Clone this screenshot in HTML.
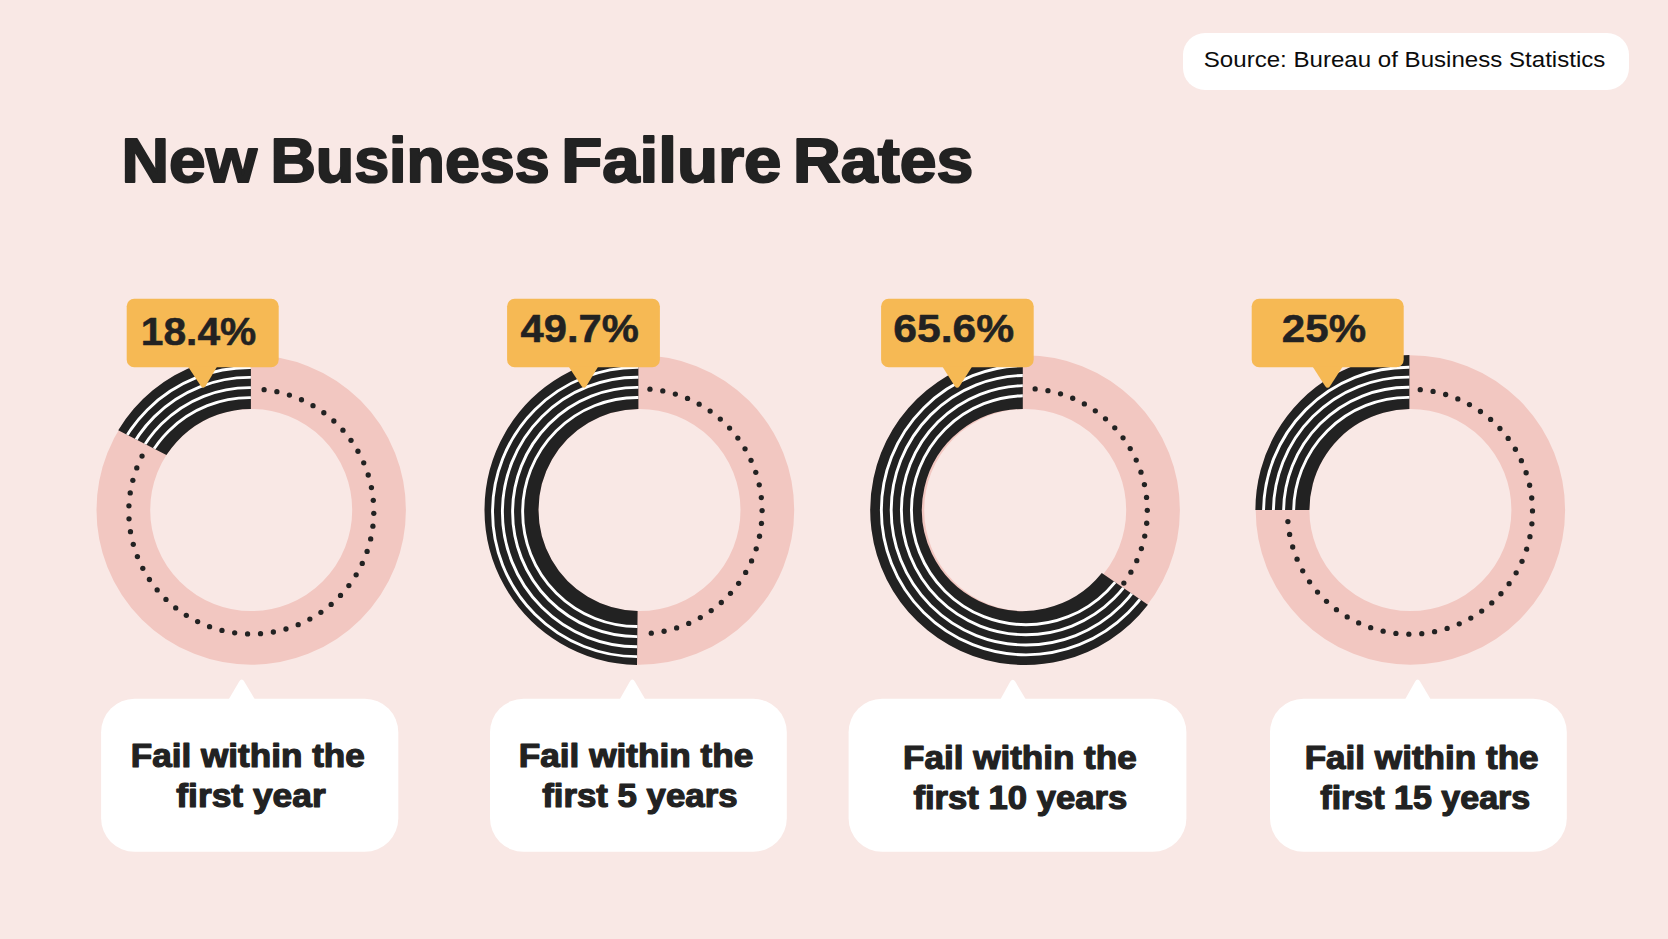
<!DOCTYPE html>
<html><head><meta charset="utf-8"><title>New Business Failure Rates</title>
<style>
html,body{margin:0;padding:0;background:#F9E8E5;}
body{width:1668px;height:939px;overflow:hidden;position:relative;}
svg{position:absolute;left:0;top:0;display:block;}
text{font-family:"Liberation Sans",Arial,sans-serif;fill:#222222;}
.ttl{font-size:62.4px;font-weight:700;stroke:#222;stroke-width:2px;stroke-linejoin:round;}
.pct{font-size:39.4px;font-weight:700;stroke:#222;stroke-width:0.5px;stroke-linejoin:round;}
.lbl{font-size:32.4px;font-weight:700;stroke:#222;stroke-width:1.2px;stroke-linejoin:round;}
.src{font-size:22px;font-weight:400;fill:#0c0c0c;}
</style></head>
<body>
<svg width="1668" height="939" viewBox="0 0 1668 939">
<rect width="1668" height="939" fill="#F9E8E5"/>
<circle cx="251.2" cy="510" r="127.85" fill="none" stroke="#F2C7C1" stroke-width="53.7"/>
<circle cx="264.1" cy="389.67" r="2.65" fill="#222222"/>
<circle cx="276.89" cy="391.7" r="2.65" fill="#222222"/>
<circle cx="289.4" cy="395.08" r="2.65" fill="#222222"/>
<circle cx="301.48" cy="399.75" r="2.65" fill="#222222"/>
<circle cx="312.99" cy="405.67" r="2.65" fill="#222222"/>
<circle cx="323.82" cy="412.77" r="2.65" fill="#222222"/>
<circle cx="333.84" cy="420.98" r="2.65" fill="#222222"/>
<circle cx="342.93" cy="430.2" r="2.65" fill="#222222"/>
<circle cx="351" cy="440.33" r="2.65" fill="#222222"/>
<circle cx="357.96" cy="451.25" r="2.65" fill="#222222"/>
<circle cx="363.72" cy="462.85" r="2.65" fill="#222222"/>
<circle cx="368.23" cy="474.99" r="2.65" fill="#222222"/>
<circle cx="371.43" cy="487.54" r="2.65" fill="#222222"/>
<circle cx="373.29" cy="500.35" r="2.65" fill="#222222"/>
<circle cx="373.79" cy="513.3" r="2.65" fill="#222222"/>
<circle cx="372.91" cy="526.22" r="2.65" fill="#222222"/>
<circle cx="370.68" cy="538.97" r="2.65" fill="#222222"/>
<circle cx="367.11" cy="551.42" r="2.65" fill="#222222"/>
<circle cx="362.25" cy="563.43" r="2.65" fill="#222222"/>
<circle cx="356.15" cy="574.85" r="2.65" fill="#222222"/>
<circle cx="348.87" cy="585.56" r="2.65" fill="#222222"/>
<circle cx="340.51" cy="595.45" r="2.65" fill="#222222"/>
<circle cx="331.15" cy="604.4" r="2.65" fill="#222222"/>
<circle cx="320.9" cy="612.31" r="2.65" fill="#222222"/>
<circle cx="309.86" cy="619.09" r="2.65" fill="#222222"/>
<circle cx="298.18" cy="624.68" r="2.65" fill="#222222"/>
<circle cx="285.97" cy="628.99" r="2.65" fill="#222222"/>
<circle cx="273.37" cy="632" r="2.65" fill="#222222"/>
<circle cx="260.53" cy="633.65" r="2.65" fill="#222222"/>
<circle cx="247.58" cy="633.94" r="2.65" fill="#222222"/>
<circle cx="234.67" cy="632.87" r="2.65" fill="#222222"/>
<circle cx="221.96" cy="630.43" r="2.65" fill="#222222"/>
<circle cx="209.56" cy="626.67" r="2.65" fill="#222222"/>
<circle cx="197.64" cy="621.62" r="2.65" fill="#222222"/>
<circle cx="186.31" cy="615.34" r="2.65" fill="#222222"/>
<circle cx="175.71" cy="607.9" r="2.65" fill="#222222"/>
<circle cx="165.96" cy="599.38" r="2.65" fill="#222222"/>
<circle cx="157.16" cy="589.88" r="2.65" fill="#222222"/>
<circle cx="149.41" cy="579.5" r="2.65" fill="#222222"/>
<circle cx="142.8" cy="568.37" r="2.65" fill="#222222"/>
<circle cx="137.4" cy="556.6" r="2.65" fill="#222222"/>
<circle cx="133.28" cy="544.32" r="2.65" fill="#222222"/>
<circle cx="130.47" cy="531.68" r="2.65" fill="#222222"/>
<circle cx="129.02" cy="518.81" r="2.65" fill="#222222"/>
<circle cx="128.93" cy="505.86" r="2.65" fill="#222222"/>
<circle cx="130.21" cy="492.97" r="2.65" fill="#222222"/>
<circle cx="132.84" cy="480.29" r="2.65" fill="#222222"/>
<circle cx="136.8" cy="467.96" r="2.65" fill="#222222"/>
<circle cx="142.04" cy="456.11" r="2.65" fill="#222222"/>
<clipPath id="c0"><path d="M250.9,355 A155,155 0 0 0 224.45,357.33 A155,155 0 0 0 198.78,364.13 A155,155 0 0 0 174.65,375.22 A155,155 0 0 0 152.77,390.26 A155,155 0 0 0 133.78,408.82 A155,155 0 0 0 118.23,430.35 L166.41,455.12 A101,101 0 0 1 176.62,441.89 A101,101 0 0 1 188.86,430.53 A101,101 0 0 1 202.81,421.35 A101,101 0 0 1 218.08,414.58 A101,101 0 0 1 234.26,410.43 A101,101 0 0 1 250.9,409 Z"/></clipPath>
<path d="M250.9,355 A155,155 0 0 0 224.45,357.33 A155,155 0 0 0 198.78,364.13 A155,155 0 0 0 174.65,375.22 A155,155 0 0 0 152.77,390.26 A155,155 0 0 0 133.78,408.82 A155,155 0 0 0 118.23,430.35 L166.41,455.12 A101,101 0 0 1 176.62,441.89 A101,101 0 0 1 188.86,430.53 A101,101 0 0 1 202.81,421.35 A101,101 0 0 1 218.08,414.58 A101,101 0 0 1 234.26,410.43 A101,101 0 0 1 250.9,409 Z" fill="#222222"/>
<g clip-path="url(#c0)" fill="none" stroke="#fff" stroke-width="2.9"><circle cx="249.5" cy="512.2" r="114.55"/><circle cx="249.5" cy="512.2" r="124.6"/><circle cx="249.5" cy="512.2" r="134.8"/><circle cx="249.5" cy="512.2" r="144.65"/></g>
<circle cx="639.5" cy="510" r="127.85" fill="none" stroke="#F2C7C1" stroke-width="53.7"/>
<circle cx="649.96" cy="389.14" r="2.65" fill="#222222"/>
<circle cx="662.79" cy="390.91" r="2.65" fill="#222222"/>
<circle cx="675.35" cy="394.03" r="2.65" fill="#222222"/>
<circle cx="687.52" cy="398.46" r="2.65" fill="#222222"/>
<circle cx="699.16" cy="404.15" r="2.65" fill="#222222"/>
<circle cx="710.13" cy="411.04" r="2.65" fill="#222222"/>
<circle cx="720.31" cy="419.04" r="2.65" fill="#222222"/>
<circle cx="729.58" cy="428.08" r="2.65" fill="#222222"/>
<circle cx="737.86" cy="438.04" r="2.65" fill="#222222"/>
<circle cx="745.03" cy="448.82" r="2.65" fill="#222222"/>
<circle cx="751.03" cy="460.3" r="2.65" fill="#222222"/>
<circle cx="755.78" cy="472.35" r="2.65" fill="#222222"/>
<circle cx="759.23" cy="484.83" r="2.65" fill="#222222"/>
<circle cx="761.34" cy="497.61" r="2.65" fill="#222222"/>
<circle cx="762.1" cy="510.54" r="2.65" fill="#222222"/>
<circle cx="761.48" cy="523.47" r="2.65" fill="#222222"/>
<circle cx="759.51" cy="536.27" r="2.65" fill="#222222"/>
<circle cx="756.19" cy="548.79" r="2.65" fill="#222222"/>
<circle cx="751.57" cy="560.89" r="2.65" fill="#222222"/>
<circle cx="745.7" cy="572.43" r="2.65" fill="#222222"/>
<circle cx="738.64" cy="583.29" r="2.65" fill="#222222"/>
<circle cx="730.48" cy="593.34" r="2.65" fill="#222222"/>
<circle cx="721.3" cy="602.48" r="2.65" fill="#222222"/>
<circle cx="711.21" cy="610.59" r="2.65" fill="#222222"/>
<circle cx="700.31" cy="617.6" r="2.65" fill="#222222"/>
<circle cx="688.74" cy="623.41" r="2.65" fill="#222222"/>
<circle cx="676.62" cy="627.97" r="2.65" fill="#222222"/>
<circle cx="664.09" cy="631.23" r="2.65" fill="#222222"/>
<circle cx="651.28" cy="633.14" r="2.65" fill="#222222"/>
<clipPath id="c1"><path d="M638.4,355 A155,155 0 0 0 561.57,376.02 A155,155 0 0 0 505.32,432.41 A155,155 0 0 0 484.5,509.3 A155,155 0 0 0 504.62,586.37 A155,155 0 0 0 560.35,643.27 A155,155 0 0 0 636.99,664.98 L637.61,610.98 A101,101 0 0 1 587.8,596.76 A101,101 0 0 1 551.59,559.72 A101,101 0 0 1 538.5,509.6 A101,101 0 0 1 551.98,459.59 A101,101 0 0 1 588.48,422.83 A101,101 0 0 1 638.4,409.01 Z"/></clipPath>
<path d="M638.4,355 A155,155 0 0 0 561.57,376.02 A155,155 0 0 0 505.32,432.41 A155,155 0 0 0 484.5,509.3 A155,155 0 0 0 504.62,586.37 A155,155 0 0 0 560.35,643.27 A155,155 0 0 0 636.99,664.98 L637.61,610.98 A101,101 0 0 1 587.8,596.76 A101,101 0 0 1 551.59,559.72 A101,101 0 0 1 538.5,509.6 A101,101 0 0 1 551.98,459.59 A101,101 0 0 1 588.48,422.83 A101,101 0 0 1 638.4,409.01 Z" fill="#222222"/>
<g clip-path="url(#c1)" fill="none" stroke="#fff" stroke-width="2.9"><circle cx="637.2" cy="512" r="114.55"/><circle cx="637.2" cy="512" r="124.6"/><circle cx="637.2" cy="512" r="134.8"/><circle cx="637.2" cy="512" r="144.65"/></g>
<circle cx="1025.2" cy="510" r="127.85" fill="none" stroke="#F2C7C1" stroke-width="53.7"/>
<circle cx="1035.14" cy="388.94" r="2.65" fill="#222222"/>
<circle cx="1047.96" cy="390.71" r="2.65" fill="#222222"/>
<circle cx="1060.53" cy="393.83" r="2.65" fill="#222222"/>
<circle cx="1072.7" cy="398.25" r="2.65" fill="#222222"/>
<circle cx="1084.34" cy="403.94" r="2.65" fill="#222222"/>
<circle cx="1095.31" cy="410.83" r="2.65" fill="#222222"/>
<circle cx="1105.49" cy="418.83" r="2.65" fill="#222222"/>
<circle cx="1114.77" cy="427.86" r="2.65" fill="#222222"/>
<circle cx="1123.04" cy="437.83" r="2.65" fill="#222222"/>
<circle cx="1130.22" cy="448.61" r="2.65" fill="#222222"/>
<circle cx="1136.22" cy="460.08" r="2.65" fill="#222222"/>
<circle cx="1140.97" cy="472.13" r="2.65" fill="#222222"/>
<circle cx="1144.42" cy="484.61" r="2.65" fill="#222222"/>
<circle cx="1146.54" cy="497.39" r="2.65" fill="#222222"/>
<circle cx="1147.3" cy="510.32" r="2.65" fill="#222222"/>
<circle cx="1146.69" cy="523.25" r="2.65" fill="#222222"/>
<circle cx="1144.71" cy="536.05" r="2.65" fill="#222222"/>
<circle cx="1141.4" cy="548.57" r="2.65" fill="#222222"/>
<circle cx="1136.78" cy="560.67" r="2.65" fill="#222222"/>
<circle cx="1130.91" cy="572.21" r="2.65" fill="#222222"/>
<circle cx="1123.85" cy="583.07" r="2.65" fill="#222222"/>
<clipPath id="c2"><path d="M1022.8,355.02 A155,155 0 0 0 926.68,390.34 A155,155 0 0 0 873.56,477.89 A155,155 0 0 0 886.63,579.46 A155,155 0 0 0 960.19,650.71 A155,155 0 0 0 1062.12,660.54 A155,155 0 0 0 1147.93,604.67 L1101.77,573.09 A101,101 0 0 1 1045.26,608.49 A101,101 0 0 1 979.01,600.97 A101,101 0 0 1 931.89,553.8 A101,101 0 0 1 924.43,487.54 A101,101 0 0 1 959.88,431.07 A101,101 0 0 1 1022.8,409 Z"/></clipPath>
<path d="M1022.8,355.02 A155,155 0 0 0 926.68,390.34 A155,155 0 0 0 873.56,477.89 A155,155 0 0 0 886.63,579.46 A155,155 0 0 0 960.19,650.71 A155,155 0 0 0 1062.12,660.54 A155,155 0 0 0 1147.93,604.67 L1101.77,573.09 A101,101 0 0 1 1045.26,608.49 A101,101 0 0 1 979.01,600.97 A101,101 0 0 1 931.89,553.8 A101,101 0 0 1 924.43,487.54 A101,101 0 0 1 959.88,431.07 A101,101 0 0 1 1022.8,409 Z" fill="#222222"/>
<g clip-path="url(#c2)" fill="none" stroke="#fff" stroke-width="2.9"><circle cx="1026" cy="510.2" r="114.55"/><circle cx="1026" cy="510.2" r="124.6"/><circle cx="1026" cy="510.2" r="134.8"/><circle cx="1026" cy="510.2" r="144.65"/></g>
<circle cx="1410.4" cy="510" r="127.85" fill="none" stroke="#F2C7C1" stroke-width="53.7"/>
<circle cx="1420.25" cy="389.63" r="2.65" fill="#222222"/>
<circle cx="1433.08" cy="391.39" r="2.65" fill="#222222"/>
<circle cx="1445.65" cy="394.5" r="2.65" fill="#222222"/>
<circle cx="1457.83" cy="398.92" r="2.65" fill="#222222"/>
<circle cx="1469.46" cy="404.6" r="2.65" fill="#222222"/>
<circle cx="1480.44" cy="411.48" r="2.65" fill="#222222"/>
<circle cx="1490.63" cy="419.47" r="2.65" fill="#222222"/>
<circle cx="1499.91" cy="428.5" r="2.65" fill="#222222"/>
<circle cx="1508.19" cy="438.46" r="2.65" fill="#222222"/>
<circle cx="1515.38" cy="449.23" r="2.65" fill="#222222"/>
<circle cx="1521.38" cy="460.71" r="2.65" fill="#222222"/>
<circle cx="1526.14" cy="472.75" r="2.65" fill="#222222"/>
<circle cx="1529.61" cy="485.23" r="2.65" fill="#222222"/>
<circle cx="1531.73" cy="498" r="2.65" fill="#222222"/>
<circle cx="1532.5" cy="510.93" r="2.65" fill="#222222"/>
<circle cx="1531.89" cy="523.87" r="2.65" fill="#222222"/>
<circle cx="1529.93" cy="536.67" r="2.65" fill="#222222"/>
<circle cx="1526.62" cy="549.19" r="2.65" fill="#222222"/>
<circle cx="1522.01" cy="561.29" r="2.65" fill="#222222"/>
<circle cx="1516.15" cy="572.84" r="2.65" fill="#222222"/>
<circle cx="1509.1" cy="583.7" r="2.65" fill="#222222"/>
<circle cx="1500.95" cy="593.76" r="2.65" fill="#222222"/>
<circle cx="1491.78" cy="602.91" r="2.65" fill="#222222"/>
<circle cx="1481.69" cy="611.03" r="2.65" fill="#222222"/>
<circle cx="1470.81" cy="618.04" r="2.65" fill="#222222"/>
<circle cx="1459.24" cy="623.87" r="2.65" fill="#222222"/>
<circle cx="1447.12" cy="628.44" r="2.65" fill="#222222"/>
<circle cx="1434.59" cy="631.71" r="2.65" fill="#222222"/>
<circle cx="1421.78" cy="633.63" r="2.65" fill="#222222"/>
<circle cx="1408.85" cy="634.19" r="2.65" fill="#222222"/>
<circle cx="1395.92" cy="633.39" r="2.65" fill="#222222"/>
<circle cx="1383.15" cy="631.22" r="2.65" fill="#222222"/>
<circle cx="1370.68" cy="627.72" r="2.65" fill="#222222"/>
<circle cx="1358.66" cy="622.92" r="2.65" fill="#222222"/>
<circle cx="1347.2" cy="616.88" r="2.65" fill="#222222"/>
<circle cx="1336.45" cy="609.66" r="2.65" fill="#222222"/>
<circle cx="1326.52" cy="601.35" r="2.65" fill="#222222"/>
<circle cx="1317.52" cy="592.03" r="2.65" fill="#222222"/>
<circle cx="1309.56" cy="581.82" r="2.65" fill="#222222"/>
<circle cx="1302.71" cy="570.83" r="2.65" fill="#222222"/>
<circle cx="1297.07" cy="559.17" r="2.65" fill="#222222"/>
<circle cx="1292.69" cy="546.98" r="2.65" fill="#222222"/>
<circle cx="1289.62" cy="534.4" r="2.65" fill="#222222"/>
<circle cx="1287.9" cy="521.57" r="2.65" fill="#222222"/>
<clipPath id="c3"><path d="M1409.4,355 A155,155 0 0 0 1369.49,360.49 A155,155 0 0 0 1332.35,376.08 A155,155 0 0 0 1300.48,400.72 A155,155 0 0 0 1276.03,432.73 A155,155 0 0 0 1260.66,469.96 A155,155 0 0 0 1255.4,509.9 L1309.4,509.9 A101,101 0 0 1 1312.82,483.94 A101,101 0 0 1 1322.8,459.73 A101,101 0 0 1 1338.66,438.9 A101,101 0 0 1 1359.35,422.85 A101,101 0 0 1 1383.47,412.66 A101,101 0 0 1 1409.4,409 Z"/></clipPath>
<path d="M1409.4,355 A155,155 0 0 0 1369.49,360.49 A155,155 0 0 0 1332.35,376.08 A155,155 0 0 0 1300.48,400.72 A155,155 0 0 0 1276.03,432.73 A155,155 0 0 0 1260.66,469.96 A155,155 0 0 0 1255.4,509.9 L1309.4,509.9 A101,101 0 0 1 1312.82,483.94 A101,101 0 0 1 1322.8,459.73 A101,101 0 0 1 1338.66,438.9 A101,101 0 0 1 1359.35,422.85 A101,101 0 0 1 1383.47,412.66 A101,101 0 0 1 1409.4,409 Z" fill="#222222"/>
<g clip-path="url(#c3)" fill="none" stroke="#fff" stroke-width="2.9"><circle cx="1408.2" cy="511.9" r="114.55"/><circle cx="1408.2" cy="511.9" r="124.6"/><circle cx="1408.2" cy="511.9" r="134.8"/><circle cx="1408.2" cy="511.9" r="144.65"/></g>
<rect x="126.7" y="298.8" width="152" height="68.5" rx="7.5" fill="#F6B954"/>
<path d="M187.8,366.3 L200.83,385.99 Q203.4,389.68 205.77,385.86 L217.3,366.3 Z" fill="#F6B954"/>
<text x="140.78" y="344.55" class="pct" textLength="115.54" lengthAdjust="spacingAndGlyphs">18.4%</text>
<rect x="507.1" y="298.8" width="152.8" height="68.5" rx="7.5" fill="#F6B954"/>
<path d="M568.4,366.3 L581.43,385.98 Q584,389.67 586.44,385.88 L598.4,366.3 Z" fill="#F6B954"/>
<text x="520.62" y="341.85" class="pct" textLength="118.33" lengthAdjust="spacingAndGlyphs">49.7%</text>
<rect x="881.1" y="298.8" width="152.6" height="68.5" rx="7.5" fill="#F6B954"/>
<path d="M942.2,366.3 L954.69,385.93 Q957.2,389.67 959.72,385.94 L972.3,366.3 Z" fill="#F6B954"/>
<text x="893.29" y="341.85" class="pct" textLength="120.99" lengthAdjust="spacingAndGlyphs">65.6%</text>
<rect x="1251.7" y="298.8" width="152" height="68.5" rx="7.5" fill="#F6B954"/>
<path d="M1312.4,366.3 L1325.07,385.94 Q1327.6,389.66 1330.14,385.95 L1342.9,366.3 Z" fill="#F6B954"/>
<text x="1281.89" y="341.85" class="pct" textLength="84.27" lengthAdjust="spacingAndGlyphs">25%</text>
<rect x="101.1" y="698.8" width="297.2" height="152.9" rx="33.5" fill="#fff"/>
<path d="M228.5,699.8 L239.07,681.73 Q241.7,677.48 244.36,681.71 L255.1,699.8 Z" fill="#fff"/>
<text x="130.85" y="767" class="lbl" textLength="233.95" lengthAdjust="spacingAndGlyphs">Fail within the</text>
<text x="176.3" y="806.8" class="lbl" textLength="149.44" lengthAdjust="spacingAndGlyphs">first year</text>
<rect x="490" y="698.8" width="296.8" height="152.9" rx="33.5" fill="#fff"/>
<path d="M619.5,699.8 L629.73,681.75 Q632.3,677.47 634.93,681.72 L645.5,699.8 Z" fill="#fff"/>
<text x="518.75" y="767" class="lbl" textLength="234.56" lengthAdjust="spacingAndGlyphs">Fail within the</text>
<text x="542.21" y="806.8" class="lbl" textLength="195.32" lengthAdjust="spacingAndGlyphs">first 5 years</text>
<rect x="848.6" y="698.7" width="337.8" height="153" rx="33.5" fill="#fff"/>
<path d="M1000.2,699.7 L1010.15,681.87 Q1012.7,677.57 1015.36,681.8 L1026,699.7 Z" fill="#fff"/>
<text x="903.06" y="768.7" class="lbl" textLength="233.64" lengthAdjust="spacingAndGlyphs">Fail within the</text>
<text x="913.41" y="808.6" class="lbl" textLength="213.81" lengthAdjust="spacingAndGlyphs">first 10 years</text>
<rect x="1270" y="698.8" width="296.8" height="152.9" rx="33.5" fill="#fff"/>
<path d="M1404.9,699.8 L1415.04,681.76 Q1417.6,677.47 1420.25,681.71 L1430.9,699.8 Z" fill="#fff"/>
<text x="1304.65" y="769.2" class="lbl" textLength="233.95" lengthAdjust="spacingAndGlyphs">Fail within the</text>
<text x="1320.32" y="809.2" class="lbl" textLength="209.98" lengthAdjust="spacingAndGlyphs">first 15 years</text>
<rect x="1183" y="33" width="446" height="57" rx="22" fill="#fff"/>
<text x="1203.81" y="67" class="src" textLength="401.56" lengthAdjust="spacingAndGlyphs">Source: Bureau of Business Statistics</text>
<text x="121.5" y="181.9" class="ttl" textLength="135.38" lengthAdjust="spacingAndGlyphs">New</text>
<text x="270.4" y="181.9" class="ttl" textLength="279.38" lengthAdjust="spacingAndGlyphs">Business</text>
<text x="561.31" y="181.9" class="ttl" textLength="220.08" lengthAdjust="spacingAndGlyphs">Failure</text>
<text x="793.07" y="181.9" class="ttl" textLength="180.24" lengthAdjust="spacingAndGlyphs">Rates</text>
</svg>
</body></html>
